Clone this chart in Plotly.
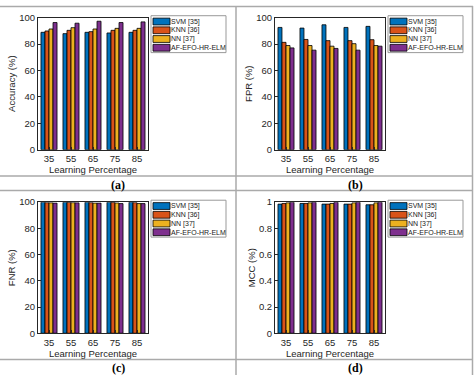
import plotly.graph_objects as go

W, H = 474, 380

categories = ["35", "55", "65", "75", "85"]
series_names = ["SVM [35]", "KNN [36]", "NN [37]", "AF-EFO-HR-ELM"]
colors = ["#0072BD", "#D95319", "#EDB120", "#7E2F8E"]

accuracy_svm = [88.9, 87.9, 88.9, 88.4, 88.9]
accuracy_knn = [89.9, 90.4, 89.4, 90.4, 90.4]
accuracy_nn = [91.4, 92.4, 91.4, 91.9, 91.9]
accuracy_af = [96.3, 95.8, 97.3, 96.3, 96.8]

fpr_svm = [92.6, 92.1, 94.6, 92.6, 93.4]
fpr_knn = [81.3, 83.5, 82.6, 82.6, 83.3]
fpr_nn = [78.9, 78.9, 78.4, 80.3, 78.9]
fpr_af = [77.1, 75.4, 76.7, 75.4, 78.4]

fnr_svm = [100.0, 100.0, 100.0, 100.0, 100.0]
fnr_knn = [99.6, 99.8, 99.6, 99.7, 99.6]
fnr_nn = [99.5, 99.6, 99.3, 99.4, 98.9]
fnr_af = [99.3, 99.5, 99.3, 98.9, 98.9]

mcc_svm = [0.985, 0.99, 0.985, 0.985, 0.98]
mcc_knn = [0.99, 0.99, 0.985, 0.985, 0.98]
mcc_nn = [0.995, 0.995, 0.99, 0.995, 0.995]
mcc_af = [1.0, 1.0, 1.0, 1.0, 1.0]

panels = [
    ("Accuracy (%)", [accuracy_svm, accuracy_knn, accuracy_nn, accuracy_af], [0, 100], 20, "(a)"),
    ("FPR (%)", [fpr_svm, fpr_knn, fpr_nn, fpr_af], [0, 100], 20, "(b)"),
    ("FNR (%)", [fnr_svm, fnr_knn, fnr_nn, fnr_af], [0, 100], 20, "(c)"),
    ("MCC (%)", [mcc_svm, mcc_knn, mcc_nn, mcc_af], [0, 1], 0.2, "(d)"),
]

# pixel layout of each axes box: (left, right, top, bottom)
boxes = [(38, 148, 12, 148), (275, 385, 12, 148), (38, 148, 202, 337), (275, 385, 202, 337)]
label_pos = [(118, 184), (355, 184), (118, 373), (355, 373)]

def px(x):
    return x / W

def py(y):
    return 1 - y / H

fig = go.Figure()
axis_color = "#262626"
font_family = "Liberation Sans, Arial, sans-serif"
shapes = []
annotations = []

for i, (ytitle, series, yr, dt, lab) in enumerate(panels):
    n = i + 1
    xa = "x" if n == 1 else f"x{n}"
    ya = "y" if n == 1 else f"y{n}"
    for name, vals, col in zip(series_names, series, colors):
        fig.add_trace(go.Bar(
            x=categories, y=vals, name=name, marker_color=col,
            marker_line_color="black", marker_line_width=0.8,
            xaxis=xa, yaxis=ya, showlegend=False, offsetgroup=name,
        ))
    l, r, t, b = boxes[i]
    xkey = "xaxis" if n == 1 else f"xaxis{n}"
    ykey = "yaxis" if n == 1 else f"yaxis{n}"
    fig.update_layout(**{
        xkey: dict(
            domain=[px(l), px(r)], anchor=ya, type="category",
            range=[-0.5, 4.5], showline=True, mirror=True, linecolor=axis_color,
            linewidth=1, ticks="inside", ticklen=3, tickcolor=axis_color,
            tickfont=dict(family=font_family, size=9.5, color=axis_color),
            title=dict(text="Learning Percentage", standoff=0,
                       font=dict(family=font_family, size=9.5, color=axis_color)),
            showgrid=False, zeroline=False,
        ),
        ykey: dict(
            domain=[py(b), py(t)], anchor=xa, range=yr, dtick=dt, tick0=0,
            showline=True, mirror=True, linecolor=axis_color, linewidth=1,
            ticks="inside", ticklen=3, tickcolor=axis_color,
            tickfont=dict(family=font_family, size=9.5, color=axis_color),
            title=dict(text=ytitle, standoff=1,
                       font=dict(family=font_family, size=9.5, color=axis_color)),
            showgrid=False, zeroline=False,
        ),
    })
    # legend box built from series names/colors
    bx0, by0 = r + 3, t - 2
    bx1, by1 = bx0 + 75, by0 + 38
    shapes.append(dict(type="rect", xref="paper", yref="paper",
                       x0=px(bx0), x1=px(bx1), y0=py(by1), y1=py(by0),
                       line=dict(color="#999999", width=1), fillcolor="white"))
    for k, (name, col) in enumerate(zip(series_names, colors)):
        cy = by0 + 6 + 9 * k
        shapes.append(dict(type="rect", xref="paper", yref="paper",
                           x0=px(bx0 + 2), x1=px(bx0 + 19), y0=py(cy + 3.5), y1=py(cy - 3.5),
                           line=dict(color="black", width=0.8), fillcolor=col))
        annotations.append(dict(text=name, xref="paper", yref="paper",
                                x=px(bx0 + 18), y=py(cy), xanchor="left", yanchor="middle",
                                showarrow=False, font=dict(family=font_family, size=7, color="#222222")))
    lx, ly = label_pos[i]
    annotations.append(dict(text=f"<b>{lab}</b>", xref="paper", yref="paper",
                            x=px(lx), y=py(ly), xanchor="center", yanchor="middle",
                            showarrow=False, font=dict(family="Liberation Serif, Times New Roman, serif",
                                                       size=12, color="black")))

# table frame lines
frame_color = "#AAAAAA"
for y in [0.5, 175, 190, 364]:
    shapes.append(dict(type="line", xref="paper", yref="paper", x0=0, x1=px(473),
                       y0=py(y), y1=py(y), line=dict(color=frame_color, width=1.5)))
for x in [236, 472.5]:
    shapes.append(dict(type="line", xref="paper", yref="paper", x0=px(x), x1=px(x),
                       y0=0, y1=1, line=dict(color=frame_color, width=1.5)))

fig.update_layout(
    width=W, height=H, autosize=False,
    margin=dict(l=0, r=0, t=0, b=0),
    paper_bgcolor="white", plot_bgcolor="white",
    barmode="group", bargap=0.27, bargroupgap=0,
    shapes=shapes, annotations=annotations,
    font=dict(family=font_family),
)

fig.write_html("out.html", config={"displayModeBar": False},
               post_script="document.body.style.margin='0';document.body.style.overflow='hidden';")
